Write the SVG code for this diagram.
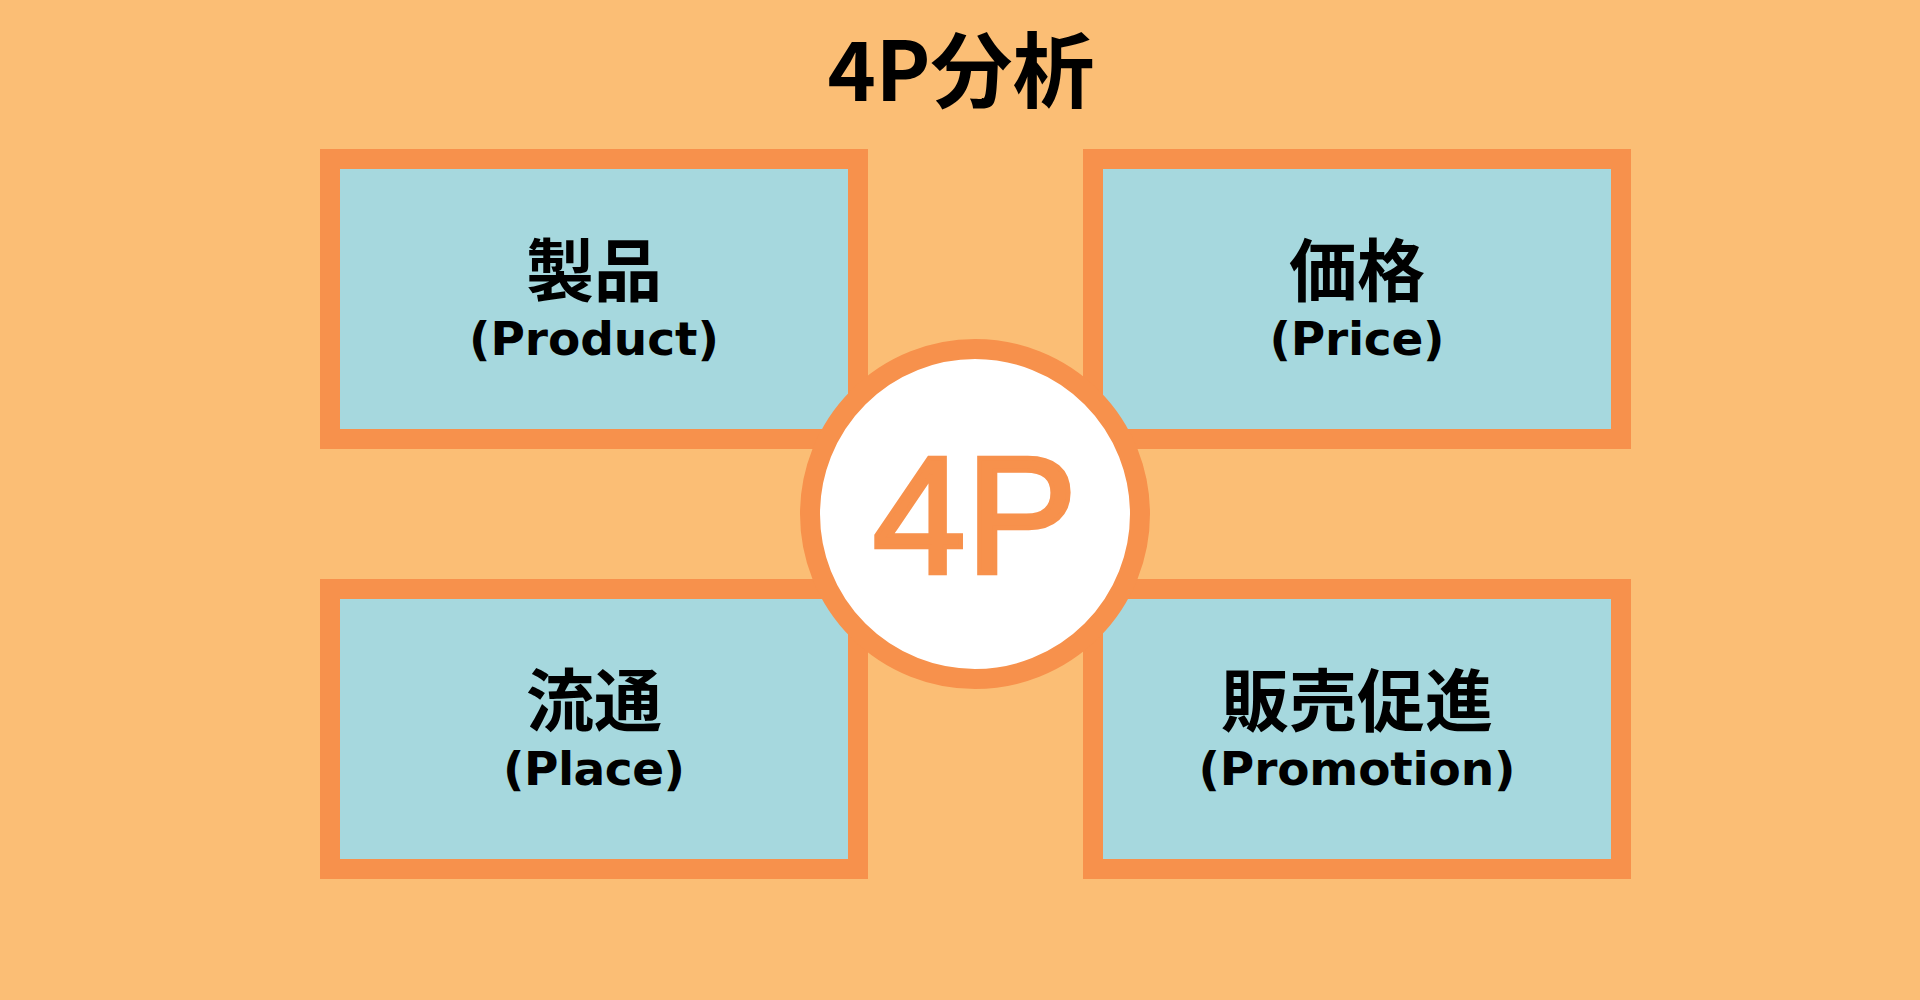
<svg xmlns="http://www.w3.org/2000/svg" width="1920" height="1000" viewBox="0 0 1920 1000">
<style>
.bg{fill:#FBBE75}
.box{fill:#A6D8DE;stroke:#F7914C;stroke-width:20}
.hub{fill:#FFFFFF;stroke:#F7914C;stroke-width:20}
text{font-family:"Noto Sans CJK JP","Noto Sans",sans-serif;text-anchor:middle;fill:#000}
.title{font-size:82px;font-weight:700}
.jp{font-size:68px;font-weight:700}
.en{font-family:"DejaVu Sans","Noto Sans CJK JP",sans-serif;font-size:47px;font-weight:700}
.hubt{font-family:"Liberation Sans","Noto Sans",sans-serif;font-size:167px;font-weight:400;fill:#F7914C;stroke:#F7914C;stroke-width:4.5}
</style>
<rect class="bg" x="0" y="0" width="1920" height="1000"/>
<g id="title"><text class="title" x="961" y="101">4P分析</text></g>
<g id="product">
<rect class="box" x="330" y="159" width="528" height="280"/>
<text class="jp" x="594" y="296">製品</text>
<text class="en" x="594" y="355" textLength="250" lengthAdjust="spacing">(Product)</text>
</g>
<g id="price">
<rect class="box" x="1093" y="159" width="528" height="280"/>
<text class="jp" x="1357" y="296">価格</text>
<text class="en" x="1357" y="355" textLength="175" lengthAdjust="spacing">(Price)</text>
</g>
<g id="place">
<rect class="box" x="330" y="589" width="528" height="280"/>
<text class="jp" x="594" y="726">流通</text>
<text class="en" x="594" y="785" textLength="182" lengthAdjust="spacing">(Place)</text>
</g>
<g id="promotion">
<rect class="box" x="1093" y="589" width="528" height="280"/>
<text class="jp" x="1357" y="726">販売促進</text>
<text class="en" x="1357" y="785" textLength="317" lengthAdjust="spacing">(Promotion)</text>
</g>
<g id="connectors"></g>
<g id="hub">
<circle class="hub" cx="975" cy="514" r="165"/>
<text class="hubt" x="975" y="573">4P</text>
</g>
</svg>
